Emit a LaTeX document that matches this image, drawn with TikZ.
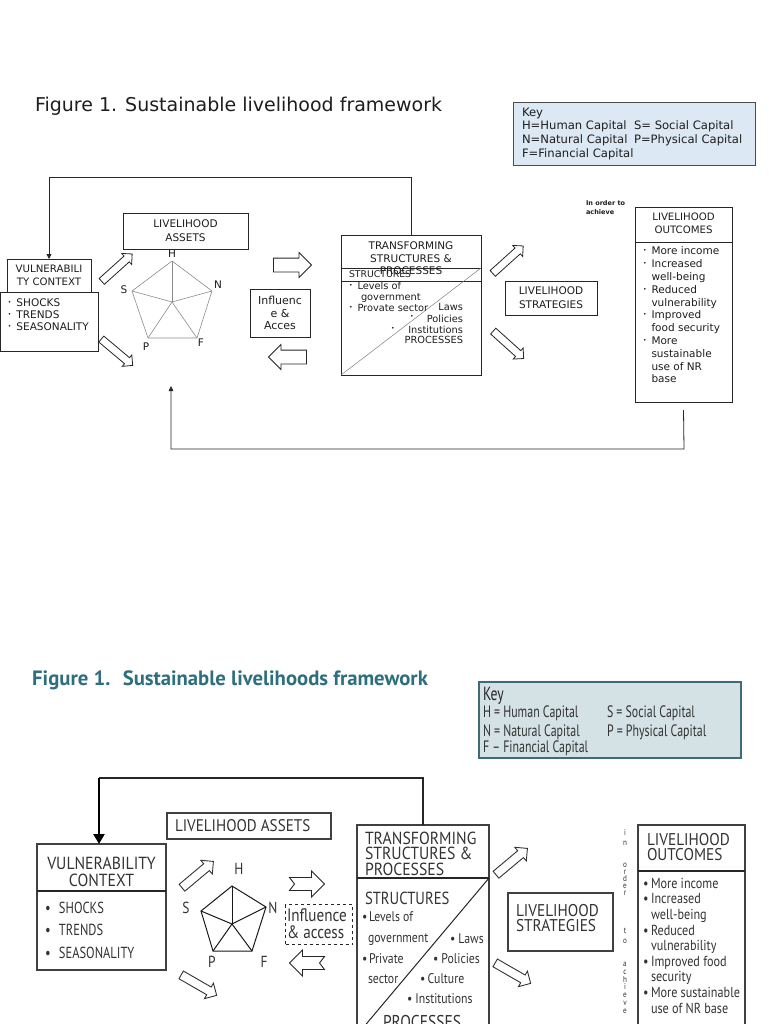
\documentclass[tikz,border=0pt]{standalone}
\usepackage{fontspec}
\setmainfont{DejaVu Sans}
\newfontfamily\dv{DejaVu Sans}
\newfontfamily\ptA[FakeStretch=0.72]{PT Sans}
\newfontfamily\ptC[FakeStretch=0.78]{PT Sans}
\newfontfamily\ptB[FakeStretch=0.84]{PT Sans}
\newfontfamily\ptT[FakeStretch=0.9]{PT Sans}
\newfontfamily\ptN{PT Sans}
\usetikzlibrary{shapes.arrows,arrows.meta,calc}
\definecolor{tealtitle}{HTML}{2E6E7E}
\definecolor{keyfillA}{HTML}{DCE8F4}
\definecolor{keyfillB}{HTML}{D4E2E6}
\definecolor{keyedgeB}{HTML}{3D6C78}
\definecolor{txtA}{HTML}{1E1E1E}
\definecolor{txtB}{HTML}{333333}
\newcommand{\tbul}{\makebox[8.5pt][l]{\raisebox{0.22em}{\fontsize{6}{6}\selectfont\textbullet}}}
\newcommand{\tind}{\hspace*{8.5pt}}
\tikzset{
  boxA/.style={draw=black!85, line width=0.8pt, inner sep=0pt, outer sep=0pt},
  boxB/.style={draw=black!75, line width=1.1pt, inner sep=0pt, outer sep=0pt},
  plainA/.style={inner sep=0pt, outer sep=0pt, text=txtA},
  plainB/.style={inner sep=0pt, outer sep=0pt, text=txtB},
  holA/.style={single arrow, draw=black!85, fill=white, line width=0.8pt, inner sep=3.5pt, single arrow head extend=3.5pt, minimum height=41pt},
  holW/.style={single arrow, draw=black!85, fill=white, line width=0.8pt, inner sep=6.5pt, single arrow head extend=5.5pt, minimum height=38pt},
  holB/.style={single arrow, draw=black!80, fill=white, line width=0.9pt, inner sep=4pt, single arrow head extend=4.5pt, minimum height=41pt},
  pentA/.style={draw=black!45, line width=0.6pt},
  pentB/.style={draw=black!90, line width=1pt},
}
\begin{document}
\begin{tikzpicture}[x=1pt,y=-1pt]
\useasboundingbox (0,0) rectangle (768,1024);
\fill[white] (0,0) rectangle (768,1024);

% ================= TOP VERSION =================
\node[plainA, anchor=base west, font=\dv\fontsize{19}{22}\selectfont] (title1) at (35,112) {Figure 1. Sustainable livelihood framework};

\node[boxA, draw=black!70, fill=keyfillA, anchor=north west, minimum width=242, minimum height=63] (key1) at (513,102) {};
\node[plainA, anchor=base west, font=\dv\fontsize{11.6}{14}\selectfont] (k1a) at (522,117) {Key};
\node[plainA, anchor=base west, font=\dv\fontsize{11.6}{14}\selectfont] (k1b) at (522,130) {H=Human Capital};
\node[plainA, anchor=base west, font=\dv\fontsize{11.6}{14}\selectfont] (k1c) at (634,130) {S= Social Capital};
\node[plainA, anchor=base west, font=\dv\fontsize{11.6}{14}\selectfont] (k1d) at (522,144) {N=Natural Capital};
\node[plainA, anchor=base west, font=\dv\fontsize{11.6}{14}\selectfont] (k1e) at (634,144) {P=Physical Capital};
\node[plainA, anchor=base west, font=\dv\fontsize{11.6}{14}\selectfont] (k1f) at (522,158) {F=Financial Capital};

% vulnerability
\node[boxA, minimum width=84, minimum height=33, align=center, font=\dv\fontsize{10.2}{13}\selectfont, text=txtA] (vul1) at (49,275.5) {VULNERABILI\\TY CONTEXT};
\node[boxA, anchor=north west, minimum width=97.5, minimum height=59] (vul1b) at (0.5,292.5) {};
\node[plainA, anchor=north west, align=left, font=\dv\fontsize{10.5}{12}\selectfont] (vul1t) at (8,299) {\tbul SHOCKS\\\tbul TRENDS\\\tbul SEASONALITY};

% feedback from transforming to vulnerability
\coordinate (fa1) at (49,177);
\coordinate (fa2) at (411,177);

% assets
\node[boxA, minimum width=125, minimum height=36, align=center, font=\dv\fontsize{10.5}{14}\selectfont, text=txtA] (ass1) at (185.5,231) {LIVELIHOOD\\ASSETS};

% pentagon
\coordinate (pH1) at (172,261);
\coordinate (pN1) at (212,291);
\coordinate (pF1) at (197,338);
\coordinate (pP1) at (148,338);
\coordinate (pS1) at (132,291);
\coordinate (pC1) at (172,302);
\draw[pentA] (pH1) -- (pN1) -- (pF1) -- (pP1) -- (pS1) -- cycle;
\foreach \v in {pH1,pN1,pF1,pP1,pS1} \draw[pentA] (pC1) -- (\v);
\node[plainA, font=\dv\fontsize{10.5}{12}\selectfont] (lH1) at (172,254) {H};
\node[plainA, font=\dv\fontsize{10.5}{12}\selectfont] (lN1) at (218,285) {N};
\node[plainA, font=\dv\fontsize{10.5}{12}\selectfont] (lF1) at (201,343) {F};
\node[plainA, font=\dv\fontsize{10.5}{12}\selectfont] (lP1) at (146,347) {P};
\node[plainA, font=\dv\fontsize{10.5}{12}\selectfont] (lS1) at (124,290) {S};

% hollow arrows
\node[holA, rotate=42] (ar1) at (115.5,269) {};
\node[holA, rotate=-40] (ar2) at (115.5,351) {};
\node[holW] (ar3) at (289,265) {};
\node[holW, rotate=180] (ar4) at (291,357) {};
\node[holA, rotate=42] (ar5) at (506.5,261) {};
\node[holA, rotate=-42] (ar6) at (507,343.5) {};

% influence
\node[boxA, minimum width=60, minimum height=48, align=center, font=\dv\fontsize{11}{12.5}\selectfont, text=txtA] (inf1) at (280,313) {Influenc\\e \&\\Acces};

% transforming
\node[boxA, minimum width=140, minimum height=140] (trans1) at (411,305) {};
\draw[black!85, line width=0.8pt] ($(trans1.north west)+(0,33)$) -- ($(trans1.north east)+(0,33)$) coordinate (d1e);
\draw[black!85, line width=0.8pt] ($(trans1.north west)+(0,46)$) -- ($(trans1.north east)+(0,46)$);
\draw[black!50, line width=0.5pt] (trans1.south west) -- (d1e);
\node[plainA, anchor=north, align=center, font=\dv\fontsize{10.5}{12.5}\selectfont] (trans1t) at (411,242) {TRANSFORMING\\STRUCTURES \&\\PROCESSES};
\node[plainA, anchor=base west, font=\dv\fontsize{9.3}{11}\selectfont] (str1) at (349,277) {STRUCTURES};
\node[plainA, anchor=north west, align=left, font=\dv\fontsize{9.8}{11}\selectfont] (lev1) at (349,282) {\tbul Levels of\\\hspace*{12pt}government\\\tbul Provate sector};
\node[plainA, anchor=base east, font=\dv\fontsize{9.8}{11}\selectfont] (laws1) at (463,310) {Laws};
\node[plainA, anchor=base east, font=\dv\fontsize{9.8}{11}\selectfont] (pol1) at (463,322) {Policies};
\node[plainA, anchor=base east, font=\dv\fontsize{9.8}{11}\selectfont] (ins1) at (463,333) {Institutions};
\node[plainA, anchor=base east, font=\dv\fontsize{9.8}{11}\selectfont] (pro1) at (463,343) {PROCESSES};
\node[plainA, font=\fontsize{6}{6}\selectfont] (dot1) at (412,317) {\textbullet};
\node[plainA, font=\fontsize{6}{6}\selectfont] (dot2) at (393,329) {\textbullet};

% feedback top
\draw[line width=0.8pt, black!85, -{Triangle[width=5pt,length=5pt]}] (trans1.north) -- (fa2) -- (fa1) -- (vul1.north -| fa1);

% strategies
\node[boxA, minimum width=92, minimum height=34, align=center, font=\dv\fontsize{10.5}{14}\selectfont, text=txtA] (strat1) at (551,298) {LIVELIHOOD\\STRATEGIES};

% in order to achieve
\node[plainA, anchor=north west, align=left, font=\dv\bfseries\fontsize{6.5}{8.5}\selectfont] (ord1) at (586,201) {In order to\\achieve};

% outcomes
\node[boxA, minimum width=97, minimum height=195] (out1) at (683.5,304.5) {};
\draw[black!85, line width=0.8pt] ($(out1.north west)+(0,35)$) -- ($(out1.north east)+(0,35)$);
\node[plainA, anchor=north, align=center, font=\dv\fontsize{10.2}{13}\selectfont] (out1h) at (683.5,213) {LIVELIHOOD\\OUTCOMES};
\node[plainA, anchor=north west, align=left, font=\dv\fontsize{10.5}{12.8}\selectfont] (out1t) at (643,247) {\tbul More income\\\tbul Increased\\\tind well-being\\\tbul Reduced\\\tind vulnerability\\\tbul Improved\\\tind food security\\\tbul More\\\tind sustainable\\\tind use of NR\\\tind base};

% feedback bottom
\coordinate (fb1) at (684,449);
\coordinate (fb2) at (171,449);
\coordinate (fb3) at (171,386);
\draw[line width=0.8pt, black!85, -{Triangle[width=4.5pt,length=5pt]}] ($(out1.south)+(0,8)$) -- (fb1) -- (fb2) -- (fb3);

% ================= BOTTOM VERSION =================
\node[anchor=base west, inner sep=0, font=\ptN\bfseries\fontsize{20.7}{24}\selectfont, text=tealtitle] (title2) at (32,685) {Figure 1.\hspace{0.6em}Sustainable livelihoods framework};

\node[draw=keyedgeB, line width=1.5pt, fill=keyfillB, anchor=north west, minimum width=262, minimum height=76, inner sep=0] (key2) at (478,681) {};
\node[plainB, anchor=base west, font=\ptA\fontsize{19}{20}\selectfont, text=black!85] (k2a) at (483,700) {Key};
\node[plainB, anchor=base west, font=\ptA\fontsize{16.5}{18}\selectfont] (k2b) at (483,717) {H = Human Capital};
\node[plainB, anchor=base west, font=\ptA\fontsize{16.5}{18}\selectfont] (k2c) at (607,717) {S = Social Capital};
\node[plainB, anchor=base west, font=\ptA\fontsize{16.5}{18}\selectfont] (k2d) at (483,736) {N = Natural Capital};
\node[plainB, anchor=base west, font=\ptA\fontsize{16.5}{18}\selectfont] (k2e) at (607,736) {P = Physical Capital};
\node[plainB, anchor=base west, font=\ptA\fontsize{16.5}{18}\selectfont] (k2f) at (483,752) {F – Financial Capital};

% vulnerability
\node[boxB, anchor=north west, minimum width=129, minimum height=126] (vul2) at (37,844) {};
\draw[black!85, line width=1.2pt] ($(vul2.north west)+(0,47)$) -- ($(vul2.north east)+(0,47)$);
\node[plainB, anchor=north, align=center, font=\ptT\fontsize{17.5}{17}\selectfont] (vul2h) at (101.5,857) {VULNERABILITY\\CONTEXT};
\node[plainB, anchor=north west, align=left, font=\ptC\fontsize{16}{22.5}\selectfont] (vul2t) at (45,902) {\makebox[14pt][l]{•}SHOCKS\\\makebox[14pt][l]{•}TRENDS\\\makebox[14pt][l]{•}SEASONALITY};

% feedback
\coordinate (fc1) at (99,778);
\coordinate (fc2) at (423,778);

% assets
\node[boxB, anchor=north west, minimum width=164, minimum height=26] (ass2) at (167,813) {};
\node[plainB, anchor=base west, font=\ptT\fontsize{16.8}{18}\selectfont] (ass2t) at (175,831) {LIVELIHOOD ASSETS};

% pentagon
\coordinate (pH2) at (232,886);
\coordinate (pN2) at (266,907);
\coordinate (pF2) at (252,951);
\coordinate (pP2) at (213,951);
\coordinate (pS2) at (201,911);
\coordinate (pC2) at (232,924);
\draw[pentB] (pH2) -- (pN2) -- (pF2) -- (pP2) -- (pS2) -- cycle;
\foreach \v in {pH2,pN2,pF2,pP2,pS2} \draw[pentB] (pC2) -- (\v);
\node[plainB, font=\ptB\fontsize{16}{18}\selectfont] (lH2) at (239,869) {H};
\node[plainB, font=\ptB\fontsize{16}{18}\selectfont] (lS2) at (186,908) {S};
\node[plainB, font=\ptB\fontsize{16}{18}\selectfont] (lN2) at (273,908) {N};
\node[plainB, font=\ptB\fontsize{16}{18}\selectfont] (lP2) at (212,962) {P};
\node[plainB, font=\ptB\fontsize{16}{18}\selectfont] (lF2) at (264,962) {F};

% hollow arrows
\node[holB, rotate=40] (br1) at (196,876) {};
\node[holB, rotate=-30] (br2) at (197,984) {};
\node[holB, rotate=40] (br3) at (510,863) {};
\node[holB, rotate=-30] (br4) at (511,972) {};
\draw[black!85, line width=0.9pt, fill=white, shift={(307,884)}] (-17.5,-6.5) -- (4.5,-6.5) -- (4.5,-13) -- (17.5,0) -- (4.5,13) -- (4.5,6.5) -- (-17.5,6.5) -- (-12.5,0) -- cycle;
\draw[black!85, line width=0.9pt, fill=white, shift={(307,963)}] (17.5,-6.5) -- (-4.5,-6.5) -- (-4.5,-13) -- (-17.5,0) -- (-4.5,13) -- (-4.5,6.5) -- (17.5,6.5) -- (12.5,0) -- cycle;

% influence
\node[draw=black!85, dashed, line width=1.1pt, anchor=north west, minimum width=67, minimum height=40, inner sep=0] (inf2) at (285,904) {};
\node[plainB, anchor=north west, align=left, font=\ptB\fontsize{18}{17}\selectfont] (inf2t) at (287,909) {Influence\\\& access};

% transforming
\node[boxB, anchor=north west, minimum width=132, minimum height=210] (trans2) at (357,825) {};
\draw[black!85, line width=1.2pt] ($(trans2.north west)+(0,53)$) -- ($(trans2.north east)+(0,53)$) coordinate (d2e);
\draw[black!85, line width=1pt] (trans2.south west) -- (d2e);
\node[plainB, anchor=north west, align=left, font=\ptT\fontsize{17.5}{15.5}\selectfont] (trans2t) at (365,832) {TRANSFORMING\\STRUCTURES \&\\PROCESSES};
\node[plainB, anchor=north west, font=\ptB\fontsize{17.5}{18}\selectfont] (str2) at (365,892) {STRUCTURES};
\node[plainB, anchor=north west, align=left, font=\ptB\fontsize{14}{20.7}\selectfont] (lev2) at (362,912) {\makebox[7pt][l]{•}Levels of\\\hspace*{6pt}government\\\makebox[7pt][l]{•}Private\\\hspace*{6pt}sector};
\node[plainB, anchor=base west, font=\ptB\fontsize{14}{16}\selectfont] (laws2) at (450,943) {• Laws};
\node[plainB, anchor=base west, font=\ptB\fontsize{14}{16}\selectfont] (pol2) at (433,963) {• Policies};
\node[plainB, anchor=base west, font=\ptB\fontsize{14}{16}\selectfont] (cul2) at (420,983) {•\,Culture};
\node[plainB, anchor=base west, font=\ptB\fontsize{14}{16}\selectfont] (ins2) at (407,1003) {• Institutions};
\node[plainB, anchor=base west, font=\ptB\fontsize{18.5}{18}\selectfont] (pro2) at (383,1028) {PROCESSES};

% feedback top bottom version
\draw[line width=1.3pt, black!85] (trans2.north -| fc2) -- (fc2) -- (fc1);
\draw[line width=2.2pt, black, -{Triangle[width=11pt,length=10pt]}] (fc1) -- (vul2.north -| fc1);

% strategies
\node[boxB, anchor=north west, minimum width=105, minimum height=58] (strat2) at (508,893) {};
\node[plainB, anchor=north west, align=left, font=\ptT\fontsize{17}{15.5}\selectfont] (strat2t) at (516,904) {LIVELIHOOD\\STRATEGIES};

% in order to achieve (stacked letters)
\foreach \l/\yy [count=\i] in {i/835,n/845,o/867,r/874,d/881,e/888,r/895,t/933,o/943,a/966,c/974,h/982,i/989,e/997,v/1005,e/1013}
  \node[plainB, anchor=base, font=\ptB\fontsize{8.5}{9}\selectfont] (ord2-\i) at (625,\yy) {\l};

% outcomes
\node[boxB, anchor=north west, minimum width=107, minimum height=210] (out2) at (638,825) {};
\draw[black!85, line width=1.2pt] ($(out2.north west)+(0,46)$) -- ($(out2.north east)+(0,46)$);
\node[plainB, anchor=north west, align=left, font=\ptT\fontsize{17}{15.5}\selectfont] (out2h) at (647,833) {LIVELIHOOD\\OUTCOMES};
\node[plainB, anchor=north west, align=left, font=\ptB\fontsize{14.5}{15.6}\selectfont] (out2t) at (643,878) {\makebox[8pt][l]{•}More income\\\makebox[8pt][l]{•}Increased\\\hspace*{8pt}well-being\\\makebox[8pt][l]{•}Reduced\\\hspace*{8pt}vulnerability\\\makebox[8pt][l]{•}Improved food\\\hspace*{8pt}security\\\makebox[8pt][l]{•}More sustainable\\\hspace*{8pt}use of NR base};
\end{tikzpicture}
\end{document}
